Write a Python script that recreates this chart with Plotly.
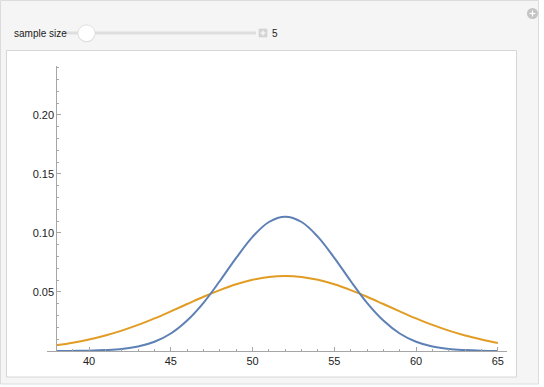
import plotly.graph_objects as go

# values
x_vals = list(range(38, 66))
orange_vals = [0.0048, 0.0070, 0.0098, 0.0132, 0.0173, 0.0221, 0.0276, 0.0336, 0.0398, 0.0460,
               0.0516, 0.0565, 0.0603, 0.0628, 0.0636, 0.0628, 0.0603, 0.0565, 0.0516, 0.0460,
               0.0398, 0.0336, 0.0276, 0.0221, 0.0173, 0.0132, 0.0098, 0.0068]
blue_vals = [0.0000, 0.0001, 0.0003, 0.0008, 0.0017, 0.0038, 0.0078, 0.0148, 0.0258, 0.0408,
             0.0593, 0.0789, 0.0967, 0.1093, 0.1138, 0.1093, 0.0967, 0.0789, 0.0593, 0.0408,
             0.0258, 0.0148, 0.0078, 0.0038, 0.0017, 0.0008, 0.0003, 0.0001]
x_ticks = [40, 45, 50, 55, 60, 65]
y_ticks = [0.05, 0.10, 0.15, 0.20]
slider_label = "sample size"
slider_value = "5"

W, H = 544, 387
L, R, T, B = 47, 37, 66, 36
pw, ph = W - L - R, H - T - B

def px(xp):
    return (xp - L) / pw

def py(yp):
    return (H - B - yp) / ph

fig = go.Figure()
fig.add_trace(go.Scatter(x=x_vals, y=orange_vals, mode="lines", line=dict(color="#E19C24", width=2, shape="spline"), hoverinfo="skip"))
fig.add_trace(go.Scatter(x=x_vals, y=blue_vals, mode="lines", line=dict(color="#5E81B5", width=2, shape="spline"), hoverinfo="skip"))

shapes = []
# outer panel
shapes.append(dict(type="rect", xref="paper", yref="paper", x0=px(0.5), x1=px(538.5), y0=py(0.5), y1=py(384),
                   fillcolor="#f5f5f5", line=dict(color="#dcdcdc", width=1), layer="below"))
# inner white panel
shapes.append(dict(type="rect", xref="paper", yref="paper", x0=px(6.5), x1=px(516.5), y0=py(50.5), y1=py(377),
                   fillcolor="#ffffff", line=dict(color="#d6d6d6", width=1), layer="below"))
# slider track
shapes.append(dict(type="line", xref="paper", yref="paper", x0=px(64), x1=px(256), y0=py(33), y1=py(33),
                   line=dict(color="#dedede", width=3), layer="below"))
# knob shadow + knob
shapes.append(dict(type="circle", xref="paper", yref="paper", x0=px(77.5), x1=px(95.5), y0=py(24.5), y1=py(42.5),
                   fillcolor="#e4e4e4", line=dict(width=0), layer="below"))
shapes.append(dict(type="circle", xref="paper", yref="paper", x0=px(78), x1=px(95), y0=py(25), y1=py(41.5),
                   fillcolor="#ffffff", line=dict(color="#d0d0d0", width=0.5), layer="below"))
# plus box next to slider
shapes.append(dict(type="rect", xref="paper", yref="paper", x0=px(259), x1=px(267), y0=py(29), y1=py(37),
                   fillcolor="#d6d6d6", line=dict(color="#c8c8c8", width=0.5), layer="below"))
shapes.append(dict(type="line", xref="paper", yref="paper", x0=px(260.5), x1=px(265.5), y0=py(33), y1=py(33),
                   line=dict(color="#ffffff", width=1), layer="below"))
shapes.append(dict(type="line", xref="paper", yref="paper", x0=px(263), x1=px(263), y0=py(30.5), y1=py(35.5),
                   line=dict(color="#ffffff", width=1), layer="below"))
# top-right circle plus icon
shapes.append(dict(type="circle", xref="paper", yref="paper", x0=px(527), x1=px(538), y0=py(8), y1=py(19),
                   fillcolor="#c4c4c4", line=dict(width=0), layer="below"))
shapes.append(dict(type="line", xref="paper", yref="paper", x0=px(529.5), x1=px(535.5), y0=py(13.5), y1=py(13.5),
                   line=dict(color="#ffffff", width=1.2), layer="below"))
shapes.append(dict(type="line", xref="paper", yref="paper", x0=px(532.5), x1=px(532.5), y0=py(10.5), y1=py(16.5),
                   line=dict(color="#ffffff", width=1.2), layer="below"))

annotations = [
    dict(text=slider_label, xref="paper", yref="paper", x=px(12), y=py(33), xanchor="left", yanchor="middle",
         showarrow=False, font=dict(size=10, color="#222222", family="Liberation Sans, Arial, sans-serif")),
    dict(text=slider_value, xref="paper", yref="paper", x=px(270), y=py(33), xanchor="left", yanchor="middle",
         showarrow=False, font=dict(size=10, color="#222222", family="Liberation Sans, Arial, sans-serif")),
]

axis_font = dict(size=11, color="#222222", family="Liberation Sans, Arial, sans-serif")
fig.update_layout(
    width=W, height=H,
    margin=dict(l=L, r=R, t=T, b=B, pad=0),
    paper_bgcolor="#ffffff",
    plot_bgcolor="rgba(0,0,0,0)",
    showlegend=False,
    shapes=shapes,
    annotations=annotations,
    xaxis=dict(range=[37.43, 65.56], showgrid=False, zeroline=False, showline=True, linecolor="#a6a6a6", linewidth=1,
               tickvals=x_ticks, ticktext=[str(v) for v in x_ticks], ticks="inside", ticklen=4, tickcolor="#a6a6a6",
               tickfont=axis_font, minor=dict(dtick=1, tick0=0, ticks="inside", ticklen=2, tickcolor="#a6a6a6"),
               fixedrange=True),
    yaxis=dict(range=[0, 0.2415], showgrid=False, zeroline=False, showline=True, linecolor="#a6a6a6", linewidth=1,
               anchor="free", position=(38 - 37.43) / (65.56 - 37.43),
               tickvals=y_ticks, ticktext=["0.05", "0.10", "0.15", "0.20"], ticks="inside", ticklen=4, tickcolor="#a6a6a6",
               tickfont=axis_font, minor=dict(dtick=0.01, tick0=0, ticks="inside", ticklen=2, tickcolor="#a6a6a6"),
               fixedrange=True),
)

fig.write_html("out.html", config={"displayModeBar": False},
               post_script="document.body.style.margin='0';document.body.style.overflow='hidden';")
